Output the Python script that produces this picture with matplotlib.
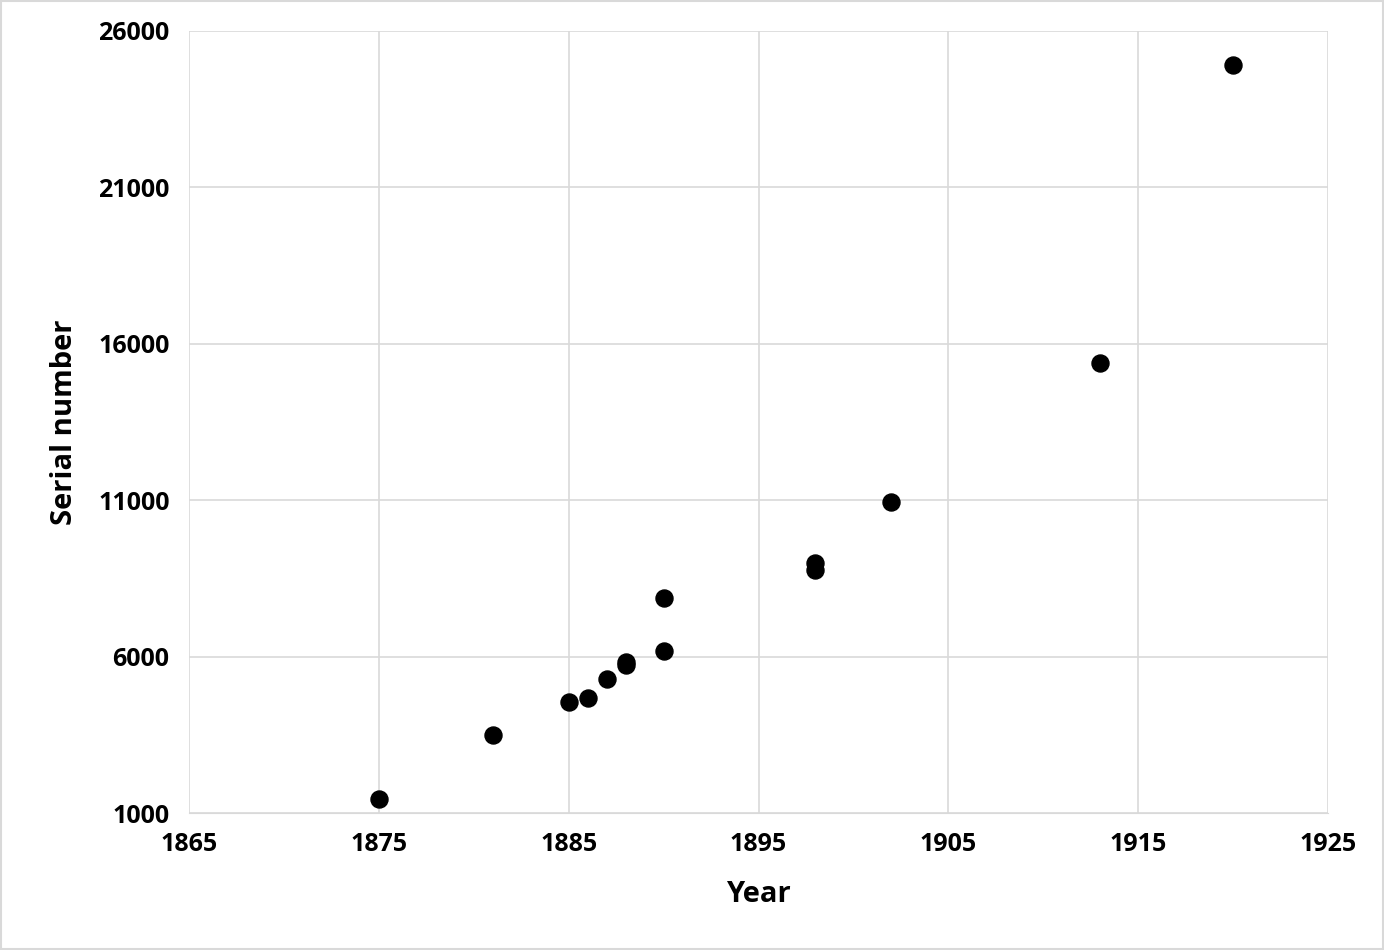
import matplotlib.pyplot as plt
from matplotlib.patches import Rectangle

years = [1875, 1881, 1885, 1886, 1887, 1888, 1888, 1890, 1890, 1898, 1898, 1902, 1913, 1920]
serials = [1450, 3500, 4550, 4680, 5280, 5830, 5730, 6180, 7870, 8990, 8770, 10940, 15390, 24910]

plt.rcParams['font.family'] = ['Open Sans', 'DejaVu Sans']

fig = plt.figure(figsize=(13.84, 9.5), dpi=100)
ax = fig.add_axes([0.1366, 0.1442, 0.8229, 0.8232])
ax.scatter(years, serials, s=150, color='black', zorder=3)

ax.set_xlim(1865, 1925)
ax.set_ylim(1000, 26000)
ax.set_xticks(range(1865, 1926, 10))
ax.set_yticks(range(1000, 26001, 5000))
ax.grid(True, color='#d9d9d9', linewidth=1.2)
for s in ['top', 'right', 'left']:
    ax.spines[s].set_visible(False)
ax.spines['bottom'].set_color('#d9d9d9')
ax.tick_params(length=0, labelsize=18, pad=14)
for lbl in ax.get_xticklabels() + ax.get_yticklabels():
    lbl.set_fontweight('bold')
ax.set_xlabel('Year', fontsize=21, fontweight='bold', labelpad=16)
ax.set_ylabel('Serial number', fontsize=21, fontweight='bold', labelpad=14)

fig.patches.append(Rectangle((0.001, 0.001), 0.998, 0.998, transform=fig.transFigure,
                             fill=False, edgecolor='#d9d9d9', linewidth=1.5))
fig.savefig('out.png', dpi=100)
